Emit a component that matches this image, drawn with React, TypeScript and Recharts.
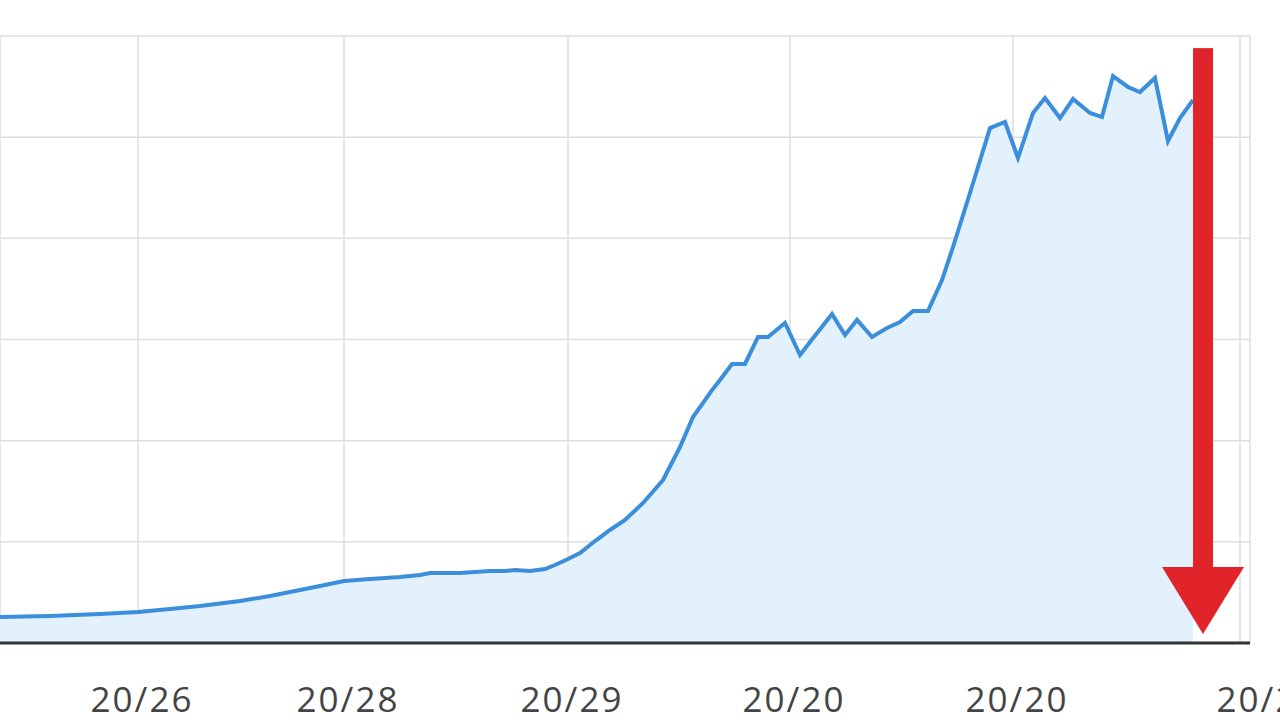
import { AreaChart, Area, XAxis, YAxis, CartesianGrid, ReferenceLine } from 'recharts';

const WEEKS = [
  0, 5, 10, 13.8, 17, 20, 24, 27, 30, 32, 34.4, 37, 40, 42, 43, 44.5, 46, 47.5, 49, 50.5, 51.5, 53,
  54.5, 55.5, 56.8, 58, 59.5, 61, 62.5, 64.3, 66.3, 68, 69.3, 71.2, 72, 73.2, 74.5, 75.8, 76.8, 78.5,
  80, 81, 83.2, 84.5, 85.7, 87.2, 88.7, 90, 91.3, 92.8, 94.2, 95.3, 97, 99, 100.5, 101.8, 103.3,
  104.5, 106, 107.3, 109, 110.2, 111.3, 112.8, 114, 115.5, 116.8, 118, 119.3,
];

const VISITS = [
  25.7, 26.7, 28.7, 30.6, 33.6, 36.6, 41.5, 46.5, 52.4, 56.3, 61.3, 63.3, 65.2, 67.2, 69.2, 69.2,
  69.2, 70.2, 71.2, 71.2, 72.2, 71.2, 73.1, 77.1, 83, 89, 100.8, 111.7, 121.6, 138.4, 161.1, 193.7,
  223.4, 250, 260, 275.8, 275.8, 302.5, 302.5, 316.3, 284.7, 297.5, 325.2, 304.4, 319.3, 302.5,
  311.4, 317.3, 328.2, 328.2, 358.8, 391.4, 444.8, 509, 515, 479.4, 523.9, 538.7, 518.9, 537.7,
  523.9, 519.9, 560.4, 549.6, 544.6, 558.5, 496.2, 518.9, 536.7,
];

const TICK_WEEKS = [13.8, 34.4, 56.8, 79, 101.3, 124];
const TICK_LABELS = ['20/26', '20/28', '20/29', '20/20', '20/20', '20/20'];
const Y_TICKS = [0, 100, 200, 300, 400, 500, 600];

const ARROW_WEEK = 120.3;
const ARROW_FROM = 588;
const ARROW_TO = 9;

const data = WEEKS.map((week, i) => ({ week, visits: VISITS[i] }));

const Arrow = (props: any) => {
  const { x1, y1, y2 } = props;
  const top = Math.min(y1, y2);
  const tip = Math.max(y1, y2);
  const headH = 67;
  const headW = 41;
  const shaft = 10;
  const base = tip - headH;
  return (
    <g>
      <rect x={x1 - shaft} y={top} width={shaft * 2} height={base - top + 1} fill="#e1232a" />
      <polygon points={`${x1 - headW},${base} ${x1 + headW},${base} ${x1},${tip}`} fill="#e1232a" />
    </g>
  );
};

const Tick = (props: any) => {
  const { x, y, payload, index } = props;
  const last = index === TICK_WEEKS.length - 1;
  return (
    <text
      x={x + (last ? 28 : 4)}
      y={y}
      dy="0.71em"
      textAnchor="middle"
      fill="#444"
      fontSize={35}
      fontFamily="Open Sans"
      letterSpacing={2}
    >
      {TICK_LABELS[TICK_WEEKS.indexOf(payload.value)]}
    </text>
  );
};

export default function App() {
  return (
    <div style={{ position: 'absolute', left: 0, top: 0, background: '#fff' }}>
      <AreaChart width={1280} height={720} data={data} margin={{ top: 36, right: 30, bottom: 0, left: 0 }}>
        <CartesianGrid stroke="#dedede" strokeWidth={1.5} />
        <XAxis
          dataKey="week"
          type="number"
          domain={[0, 125]}
          ticks={TICK_WEEKS}
          interval={0}
          height={77}
          stroke="#333"
          strokeWidth={3}
          tickLine={false}
          tickSize={0}
          tickMargin={44}
          tick={<Tick />}
        />
        <YAxis hide domain={[0, 600]} ticks={Y_TICKS} />
        <Area
          type="linear"
          dataKey="visits"
          stroke="#3a8edb"
          strokeWidth={4}
          fill="#e3f1fc"
          fillOpacity={1}
          isAnimationActive={false}
        />
        <ReferenceLine
          segment={[
            { x: ARROW_WEEK, y: ARROW_FROM },
            { x: ARROW_WEEK, y: ARROW_TO },
          ]}
          shape={Arrow}
          ifOverflow="visible"
        />
      </AreaChart>
    </div>
  );
}
